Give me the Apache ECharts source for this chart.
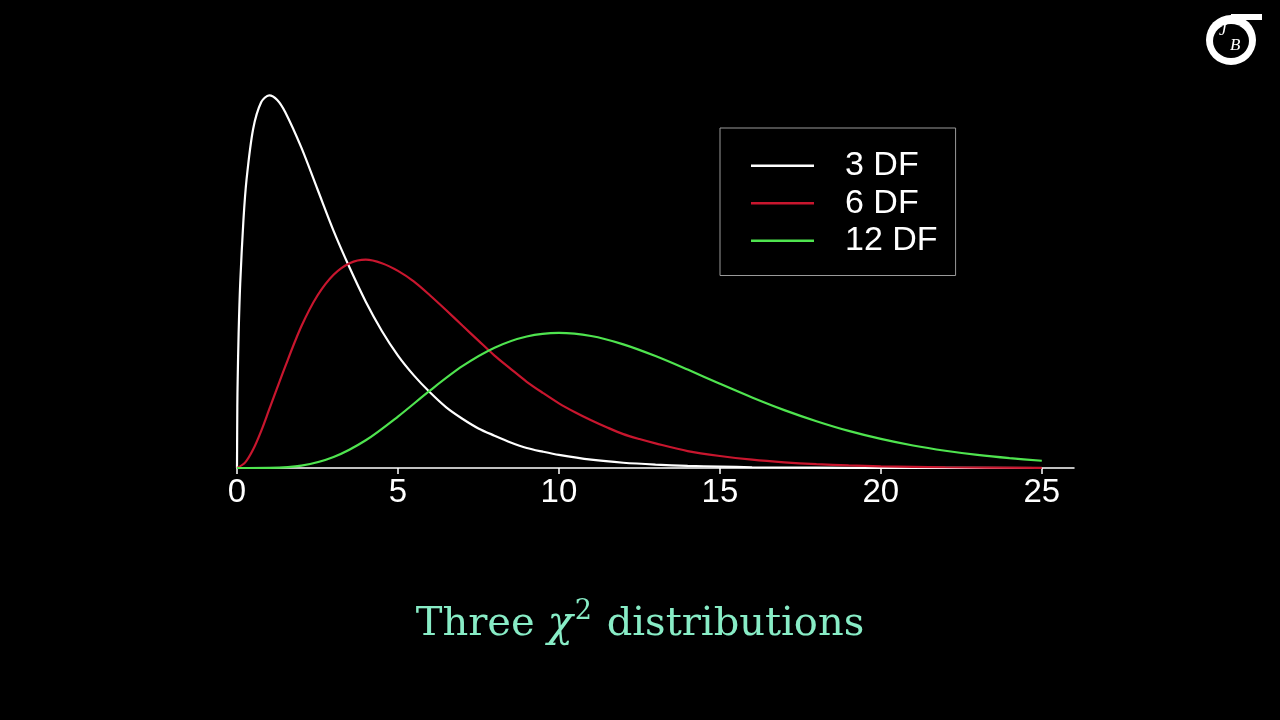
<!DOCTYPE html>
<html>
<head>
<meta charset="utf-8">
<script src="https://cdn.jsdelivr.net/npm/echarts@6/dist/echarts.min.js"></script>
<style>html,body{margin:0;padding:0;background:#000;}#c{width:1280px;height:720px;}</style>
</head>
<body>
<div id="c"></div>
<script>
// Values (density vs x)
const seriesNames = ['3 DF', '6 DF', '12 DF'];
const xTicks = [0, 5, 10, 15, 20, 25];
const df3 = [[0,0],[0.01,0.040],[0.02,0.056],[0.05,0.087],[0.1,0.120],[0.2,0.161],[0.3,0.188],[0.5,0.220],[0.75,0.2375],[1,0.242],[1.25,0.239],[1.5,0.231],[2,0.208],[2.5,0.181],[3,0.154],[3.5,0.130],[4,0.108],[4.5,0.089],[5,0.073],[5.5,0.060],[6,0.049],[6.5,0.0394],[7,0.032],[7.5,0.0257],[8,0.021],[8.5,0.0166],[9,0.013],[9.5,0.0106],[10,0.0085],[11,0.0054],[12,0.0034],[13,0.0022],[14,0.0014],[15,0.0009],[16,0.0005],[18,0.0002],[20,0.0001],[25,0]];
const df6 = [[0,0],[0.25,0.0035],[0.5,0.012],[0.75,0.024],[1,0.038],[1.5,0.066],[2,0.092],[2.5,0.112],[3,0.1255],[3.5,0.133],[4,0.1353],[4.5,0.133],[5,0.128],[5.5,0.121],[6,0.112],[6.5,0.1024],[7,0.0925],[7.5,0.0827],[8,0.073],[8.5,0.0644],[9,0.056],[9.5,0.0488],[10,0.042],[10.5,0.0362],[11,0.031],[11.5,0.0263],[12,0.022],[12.5,0.0188],[13,0.016],[14,0.011],[15,0.0078],[16,0.0054],[17,0.0037],[18,0.0025],[19,0.0017],[20,0.0011],[22,0.0005],[25,0.0001]];
const df12 = [[0,0],[1,0.0001],[2,0.0015],[3,0.0071],[4,0.018],[5,0.0334],[6,0.0504],[7,0.0661],[8,0.0781],[9,0.0854],[10,0.0877],[11,0.0857],[12,0.0803],[13,0.0727],[14,0.0639],[15,0.0547],[16,0.0458],[17,0.0376],[18,0.0304],[19,0.0241],[20,0.0189],[21,0.0146],[22,0.0112],[23,0.0085],[24,0.0064],[25,0.0047]];
const colors = ['#ffffff', '#c8162e', '#4fe44f'];

const chart = echarts.init(document.getElementById('c'));
const mk = (name, data, color) => ({
  name, type: 'line', data, showSymbol: false, symbol: 'none',
  smooth: 0.3,
  lineStyle: { color, width: 2.2 }, itemStyle: { color },
  animation: false
});
const serif = 'DejaVu Serif, Liberation Serif, serif';
chart.setOption({
  backgroundColor: '#000',
  animation: false,
  grid: { left: 237, top: 83, width: 837, height: 385 },
  xAxis: {
    type: 'value', min: 0, max: 26, interval: 5,
    axisLine: { lineStyle: { color: '#fff', width: 1.5 } },
    axisTick: { show: true, length: 6, lineStyle: { color: '#fff', width: 1.5 } },
    axisLabel: {
      color: '#fff', fontSize: 33, fontFamily: 'Liberation Sans, Arial, sans-serif',
      margin: 8, showMaxLabel: false,
      formatter: v => (xTicks.indexOf(v) >= 0 ? String(v) : '')
    },
    splitLine: { show: false }
  },
  yAxis: { type: 'value', min: 0, max: 0.25, show: false, splitLine: { show: false } },
  legend: {
    orient: 'vertical', left: 720, top: 128,
    data: seriesNames,
    backgroundColor: '#000',
    borderColor: '#9a9a9a', borderWidth: 1,
    padding: [19, 18, 16, 31],
    itemWidth: 63, itemHeight: 14, itemGap: 0,
    icon: 'path://M0,0 L63,0 L63,2.5 L0,2.5 Z',
    textStyle: { color: '#fff', fontSize: 34, lineHeight: 30.5, fontFamily: 'Liberation Sans, Arial, sans-serif', padding: [7, 0, 0, 26] }
  },
  title: {
    left: 'center', top: 593,
    text: '{n|Three }{g|χ}{s|2}{n| distributions}',
    textStyle: {
      fontWeight: 'normal',
      rich: {
        n: { color: '#88ecc6', fontSize: 40, fontWeight: 'normal', fontFamily: serif, lineHeight: 54 },
        g: { color: '#88ecc6', fontSize: 42, fontWeight: 'normal', fontStyle: 'italic', fontFamily: serif, lineHeight: 54 },
        s: { color: '#88ecc6', fontSize: 27, fontWeight: 'normal', fontFamily: serif, verticalAlign: 'top', lineHeight: 30, padding: [0, 2, 0, 2] }
      }
    }
  },
  graphic: [
    { type: 'circle', shape: { cx: 1231, cy: 40, r: 25 }, style: { fill: '#fff' }, silent: true },
    { type: 'ellipse', shape: { cx: 1231, cy: 41, rx: 18, ry: 17 }, style: { fill: '#000' }, silent: true },
    { type: 'rect', shape: { x: 1231, y: 14, width: 31, height: 6 }, style: { fill: '#fff' }, silent: true },
    { type: 'text', left: 1219, top: 22, style: { text: 'J', fill: '#fff', font: 'italic 17px Liberation Serif, serif' }, silent: true },
    { type: 'text', left: 1230, top: 37, style: { text: 'B', fill: '#fff', font: 'italic 17px Liberation Serif, serif' }, silent: true }
  ],
  series: [mk(seriesNames[0], df3, colors[0]), mk(seriesNames[1], df6, colors[1]), mk(seriesNames[2], df12, colors[2])]
});
</script>
</body>
</html>
